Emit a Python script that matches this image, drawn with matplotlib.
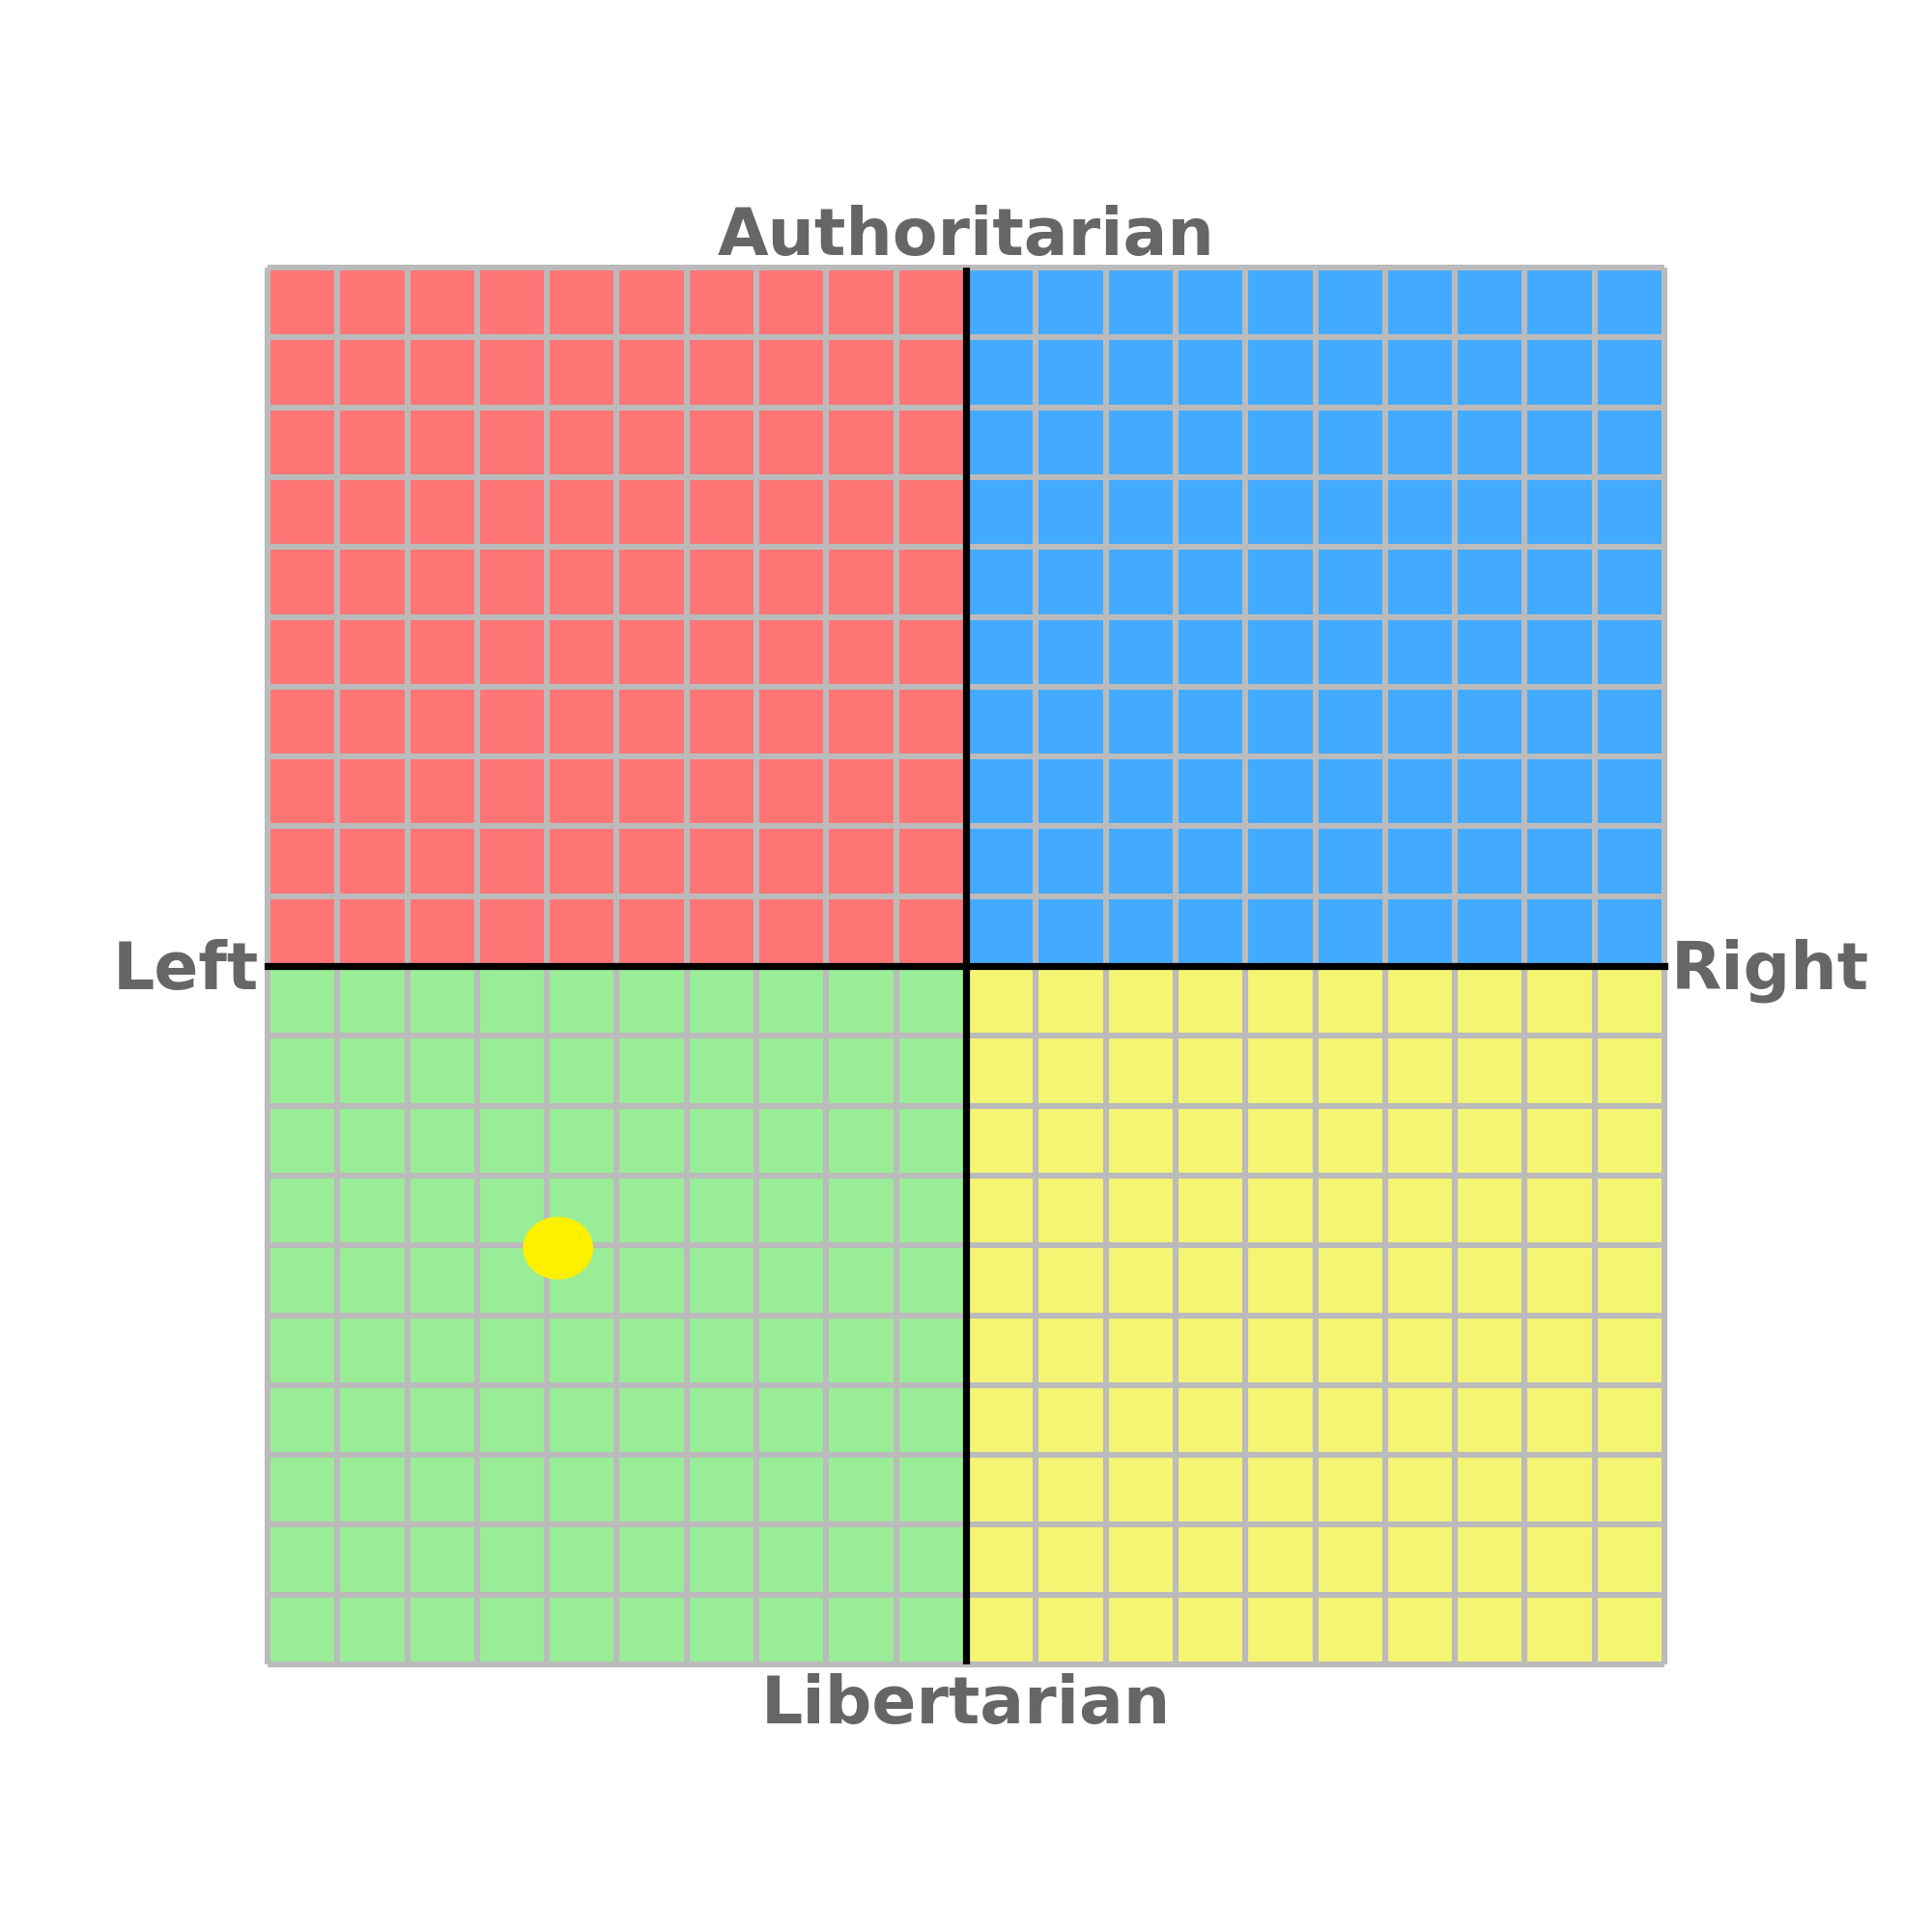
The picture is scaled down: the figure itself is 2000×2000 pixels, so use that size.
import numpy as np
import matplotlib.pyplot as plt
from matplotlib.patches import Ellipse

# quadrants: (economic sign, social sign)
quad_x = [-5, 5, -5, 5]
quad_y = [5, 5, -5, -5]
quad_colors = ["#FF7575", "#42AAFF", "#9AED97", "#F5F574"]

grid_ticks = np.arange(-10, 11, 1)

# position of the marker (economic, social)
point_x = -5.84
point_y = -4.04

labels = {"top": "Authoritarian", "bottom": "Libertarian",
          "left": "Left", "right": "Right"}

fig = plt.figure(figsize=(10, 10), dpi=200)
ax = fig.add_axes([0.1385, 0.1385, 0.723, 0.723])
ax.set_xlim(-10, 10)
ax.set_ylim(-10, 10)
ax.axis("off")

ax.bar(quad_x, 10, width=10, bottom=np.array(quad_y) - 5,
       color=quad_colors, linewidth=0, zorder=1)

ax.vlines(grid_ticks, -10, 10, color="#BBBBBB", linewidth=2.2, zorder=2, clip_on=False)
ax.hlines(grid_ticks, -10, 10, color="#BBBBBB", linewidth=2.2, zorder=2, clip_on=False)

ax.axvline(0, color="black", linewidth=2.6, zorder=3)
ax.axhline(0, color="black", linewidth=2.6, zorder=3, clip_on=False)

ax.add_patch(Ellipse((point_x, point_y), 0.97, 0.86, color="#FFF000", zorder=4))

txt = dict(fontsize=24.5, fontweight="bold", color="#666666", family="DejaVu Sans")
ax.text(0, 10.18, labels["top"], ha="center", va="baseline", **txt)
ax.text(0, -10.84, labels["bottom"], ha="center", va="baseline", **txt)
ax.text(-10.12, -0.33, labels["left"], ha="right", va="baseline", **txt)
ax.text(10.1, -0.33, labels["right"], ha="left", va="baseline", **txt)

fig.savefig("out.png", dpi=200, facecolor="white")
